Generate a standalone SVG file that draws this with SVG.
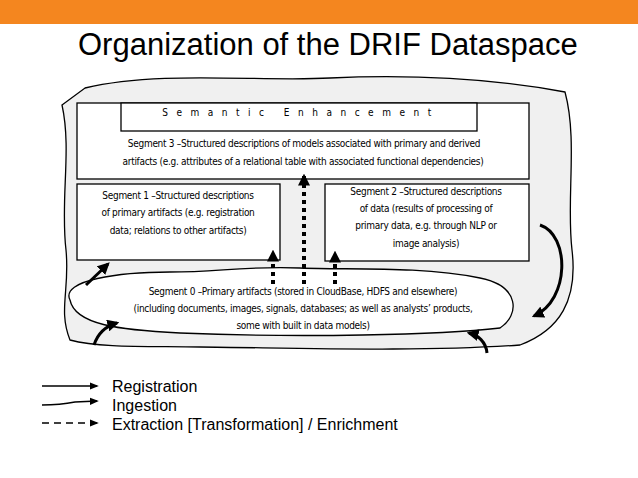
<svg xmlns="http://www.w3.org/2000/svg" width="638" height="478" viewBox="0 0 638 478">
<style>
.t{font-family:"Liberation Sans",Arial,sans-serif;fill:#000}
.s{font-family:"DejaVu Sans Condensed","Liberation Sans Narrow","Liberation Sans",sans-serif;font-size:10px;fill:#000;text-anchor:middle;letter-spacing:-0.3px}
.box{fill:#fff;stroke:#000;stroke-width:1.3}
.a{fill:none;stroke:#000;stroke-width:3}
.d{fill:none;stroke:#000;stroke-width:4;stroke-dasharray:4 4}
.l{fill:none;stroke:#000;stroke-width:1.5}
</style>
<defs>
<marker id="h" viewBox="0 0 10 10" refX="8" refY="5" markerWidth="4" markerHeight="4" orient="auto"><path d="M0,0L10,5L0,10z" fill="#000"/></marker>
<marker id="hd" viewBox="0 0 10 10" refX="8" refY="5" markerWidth="3" markerHeight="3" orient="auto"><path d="M0,0L10,5L0,10z" fill="#000"/></marker>
<marker id="hs" viewBox="0 0 10 10" refX="8" refY="5" markerWidth="6" markerHeight="6" orient="auto"><path d="M0,1L10,5L0,9z" fill="#000"/></marker>
</defs>
<rect x="0" y="0" width="638" height="24" fill="#f4861f"/>
<text class="t" x="78" y="55" font-size="31">Organization of the DRIF Dataspace</text>
<g id="space">
<path d="M85,88 C160,70 260,82 330,78 C420,74 500,80 565,92 C578,140 566,200 572,250 C578,300 560,330 520,345 C420,352 300,348 200,347 C150,346 100,348 70,340 C58,310 70,290 66,250 C60,200 72,150 62,105 Z" fill="#f0f0f0" stroke="#000" stroke-width="1.3"/>
</g>
<g id="seg3"><rect class="box" x="77" y="103" width="452" height="76"/>
<text class="s" x="304" y="147">Segment 3 –Structured descriptions of models associated with primary and derived</text>
<text class="s" x="303" y="165">artifacts (e.g. attributes of a relational table with associated functional dependencies)</text></g>
<g id="sem"><rect class="box" x="121" y="103" width="356" height="28"/>
<text class="s" x="301" y="116" style="letter-spacing:8.5px">Semantic Enhancement</text></g>
<g id="seg1"><rect class="box" x="77" y="184" width="203" height="76"/>
<text class="s" x="178" y="199">Segment 1 –Structured descriptions</text>
<text class="s" x="178" y="216">of primary artifacts (e.g. registration</text>
<text class="s" x="178" y="234">data; relations to other artifacts)</text></g>
<g id="seg2"><rect class="box" x="325" y="184" width="204" height="77"/>
<text class="s" x="426" y="195">Segment 2 –Structured descriptions</text>
<text class="s" x="426" y="212">of data (results of processing of</text>
<text class="s" x="426" y="229">primary data, e.g. through NLP or</text>
<text class="s" x="426" y="247">image analysis)</text></g>
<g id="seg0">
<path d="M70,300 C60,280 120,272 170,272 C220,272 240,266 300,268 C350,270 420,266 480,278 C520,286 520,315 500,328 C440,335 300,338 180,333 C120,330 75,325 70,300 Z" fill="#fff" stroke="#000" stroke-width="1.3"/>
<text class="s" x="303" y="295">Segment 0 –Primary artifacts (stored in CloudBase, HDFS and elsewhere)</text>
<text class="s" x="303" y="312">(including documents, images, signals, databases; as well as analysts’ products,</text>
<text class="s" x="303" y="329">some with built in data models)</text>
</g>
<g id="connectors">
<path class="d" d="M304,284 L304,176" marker-end="url(#hd)"/>
<path class="d" d="M273,284 L273,252" marker-end="url(#hd)"/>
<path class="d" d="M335,284 L335,253" marker-end="url(#hd)"/>
<path class="a" d="M86,285 L108,264" marker-end="url(#h)"/>
<path class="a" d="M94,345 C98,333 106,326 117,323" marker-end="url(#h)"/>
<path class="a" d="M487,353 C486,342 478,335 469,333" marker-end="url(#h)"/>
<path class="a" d="M540,225 C570,235 570,300 534,316" marker-end="url(#h)"/>
</g>
<g id="legend">
<path class="l" d="M42,386 L97,386" marker-end="url(#hs)"/>
<path class="l" d="M42,405 C60,405 70,403 75,402 L97,401" marker-end="url(#hs)"/>
<path class="l" d="M42,423 L97,423" stroke-dasharray="7 5" marker-end="url(#hs)"/>
<text class="t" x="112" y="392" font-size="16">Registration</text>
<text class="t" x="112" y="411" font-size="16">Ingestion</text>
<text class="t" x="112" y="430" font-size="16">Extraction [Transformation] / Enrichment</text>
</g>
</svg>
